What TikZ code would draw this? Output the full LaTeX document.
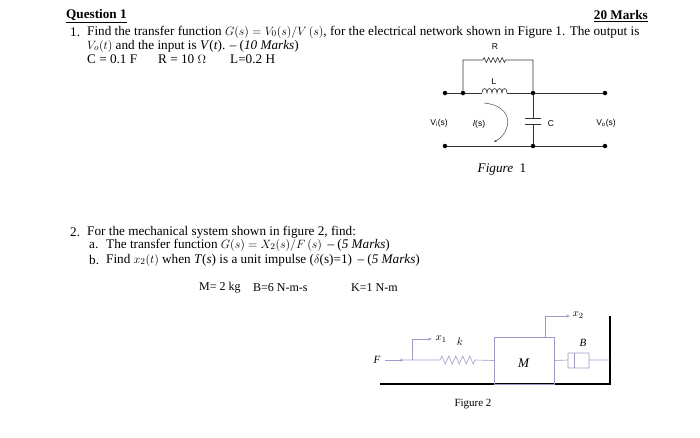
\documentclass[tikz,border=0pt]{standalone}
\usepackage{fontspec}
\setmainfont{Liberation Serif}
\newfontfamily\sansf{Liberation Sans}
\usetikzlibrary{decorations.pathmorphing,arrows.meta}
\begin{document}
\begin{tikzpicture}[x=1pt,y=-1pt,
  txt/.style={anchor=west,inner sep=0,font=\fontsize{13.2}{15}\selectfont},
  ctxt/.style={inner sep=0,font=\sansf\fontsize{8.5}{9}\selectfont},
  wire/.style={draw=black!80,line width=0.6pt},
  mwire/.style={draw=gray!70!blue!60,line width=0.6pt},
  dotn/.style={circle,fill=black,inner sep=0,minimum size=4.5pt}]
\useasboundingbox (0,0) rectangle (700,437);
% Question text
\node[txt] (q) at (66,16) {\textbf{\underline{Question 1}}};
\node[txt,anchor=east] (mk) at (648,16) {\textbf{\underline{20 Marks}}};
\node[txt] (n1) at (70,32) {1.};
\node[txt] (l1) at (87,32) {Find the transfer function $G(s)=V_0(s)/V\,(s)$, for the electrical network shown in Figure 1. The output is};
\node[txt] (l2) at (87,46) {$V_o(t)$ and the input is \textit{V}(\textit{t}). -- (\textit{10 Marks})};
\node[txt] (c1) at (87,59) {C = 0.1 F};
\node[txt] (c2) at (158,59) {R = 10 $\Omega$};
\node[txt] (c3) at (230,59) {L=0.2 H};
% Circuit
\node[dotn] (a) at (445,93) {};
\node[dotn] (b) at (463,93) {};
\node[dotn] (c) at (533,93) {};
\node[dotn] (d) at (605,93) {};
\node[dotn] (e) at (445,146) {};
\node[dotn] (f) at (533,146) {};
\node[dotn] (g) at (605,146) {};
\coordinate (tl) at (463,60);
\coordinate (tr) at (533,60);
\draw[wire] (a)--(b)--(482,93);
\draw[wire] (507,93)--(c)--(d);
\draw[wire] (482,93) .. controls (482,87) and (487,87) .. (487,93) .. controls (487,87) and (492,87) .. (492,93) .. controls (492,87) and (497,87) .. (497,93) .. controls (497,87) and (502,87) .. (502,93) .. controls (502,87) and (507,87) .. (507,93);
\draw[wire] (b)--(tl)--(483,60) decorate[decoration={zigzag,segment length=4.5pt,amplitude=2.5pt}]{--(507,60)}--(tr)--(c);
\draw[wire] (c)--(533,118) (525,118)--(541,118) (525,124)--(541,124) (533,124)--(f);
\draw[wire] (e)--(f)--(g);
\node[ctxt] (Rl) at (495,47) {R};
\node[ctxt] (Ll) at (494,82) {L};
\node[ctxt] (Cl) at (551,124) {C};
\node[ctxt] (vi) at (439,123) {V\textsubscript{i}(s)};
\node[ctxt] (is) at (479,124) {\textit{I}(s)};
\node[ctxt] (vo) at (606,123) {V\textsubscript{o}(s)};
\draw[black!70,line width=0.5pt,-{Stealth[length=3pt]}] (484,103) .. controls (515,106) and (512,132) .. (494,142);
\node[txt,anchor=center] (f1) at (502,170) {\textit{Figure}\ \ 1};
% Part 2
\node[txt] (n2) at (70,232) {2.};
\node[txt] (p2) at (87,232) {For the mechanical system shown in figure 2, find:};
\node[txt] (na) at (89,245) {a.};
\node[txt] (pa) at (106,245) {The transfer function $G(s)=X_2(s)/F\,(s)$ \,-- (\textit{5 Marks})};
\node[txt] (nb) at (89,260) {b.};
\node[txt] (pb) at (106,260) {Find $x_2(t)$ when \textit{T}(\textit{s}) is a unit impulse ($\delta$(s)=1) \,-- (\textit{5 Marks})};
\node[txt,font=\fontsize{12}{14}\selectfont] (m1) at (199,288) {M= 2 kg};
\node[txt,font=\fontsize{12}{14}\selectfont] (m2) at (253,288) {B=6 N-m-s};
\node[txt,font=\fontsize{12}{14}\selectfont] (m3) at (351,288) {K=1 N-m};
% Figure 2
\draw[line width=1.4pt] (380,384)--(610,384)--(610,316);
\node[draw=gray!70!blue!60,line width=0.8pt,minimum width=60pt,minimum height=47pt,inner sep=0] (M) at (524,360.5) {};
\node[txt,anchor=center] (Ml) at (524,363) {\textit{M}};
\node[txt,anchor=center,font=\fontsize{11}{12}\selectfont] (F) at (377,360) {\textit{F}};
\draw[mwire,-{Stealth[length=4pt]}] (385,360)--(404,360);
\draw[mwire] (404,360)--(440,360) decorate[decoration={zigzag,segment length=7pt,amplitude=4pt}]{--(476,360)}--(M.west);
\draw[mwire,-{Stealth[length=4pt]}] (412,360)--(412,339)--(432,339);
\node[txt,anchor=center,font=\fontsize{11}{12}\selectfont] (x1) at (441,339) {$x_1$};
\node[txt,anchor=center,font=\fontsize{11}{12}\selectfont] (k) at (460,342) {$k$};
\draw[mwire] (M.east)--(568,360) (568,353)--(568,368) (568,353)--(589,353)--(589,368)--(568,368) (589,360)--(610,360);
\draw[mwire] (574,353)--(574,368);
\node[txt,anchor=center,font=\fontsize{11}{12}\selectfont] (B) at (583,343) {\textit{B}};
\draw[mwire,-{Stealth[length=4pt]}] (545,337)--(545,316)--(570,316);
\node[txt,anchor=center,font=\fontsize{11}{12}\selectfont] (x2) at (578,315) {$x_2$};
\node[txt,anchor=center,font=\fontsize{11}{12}\selectfont] (f2) at (473,404) {Figure 2};
\end{tikzpicture}
\end{document}
